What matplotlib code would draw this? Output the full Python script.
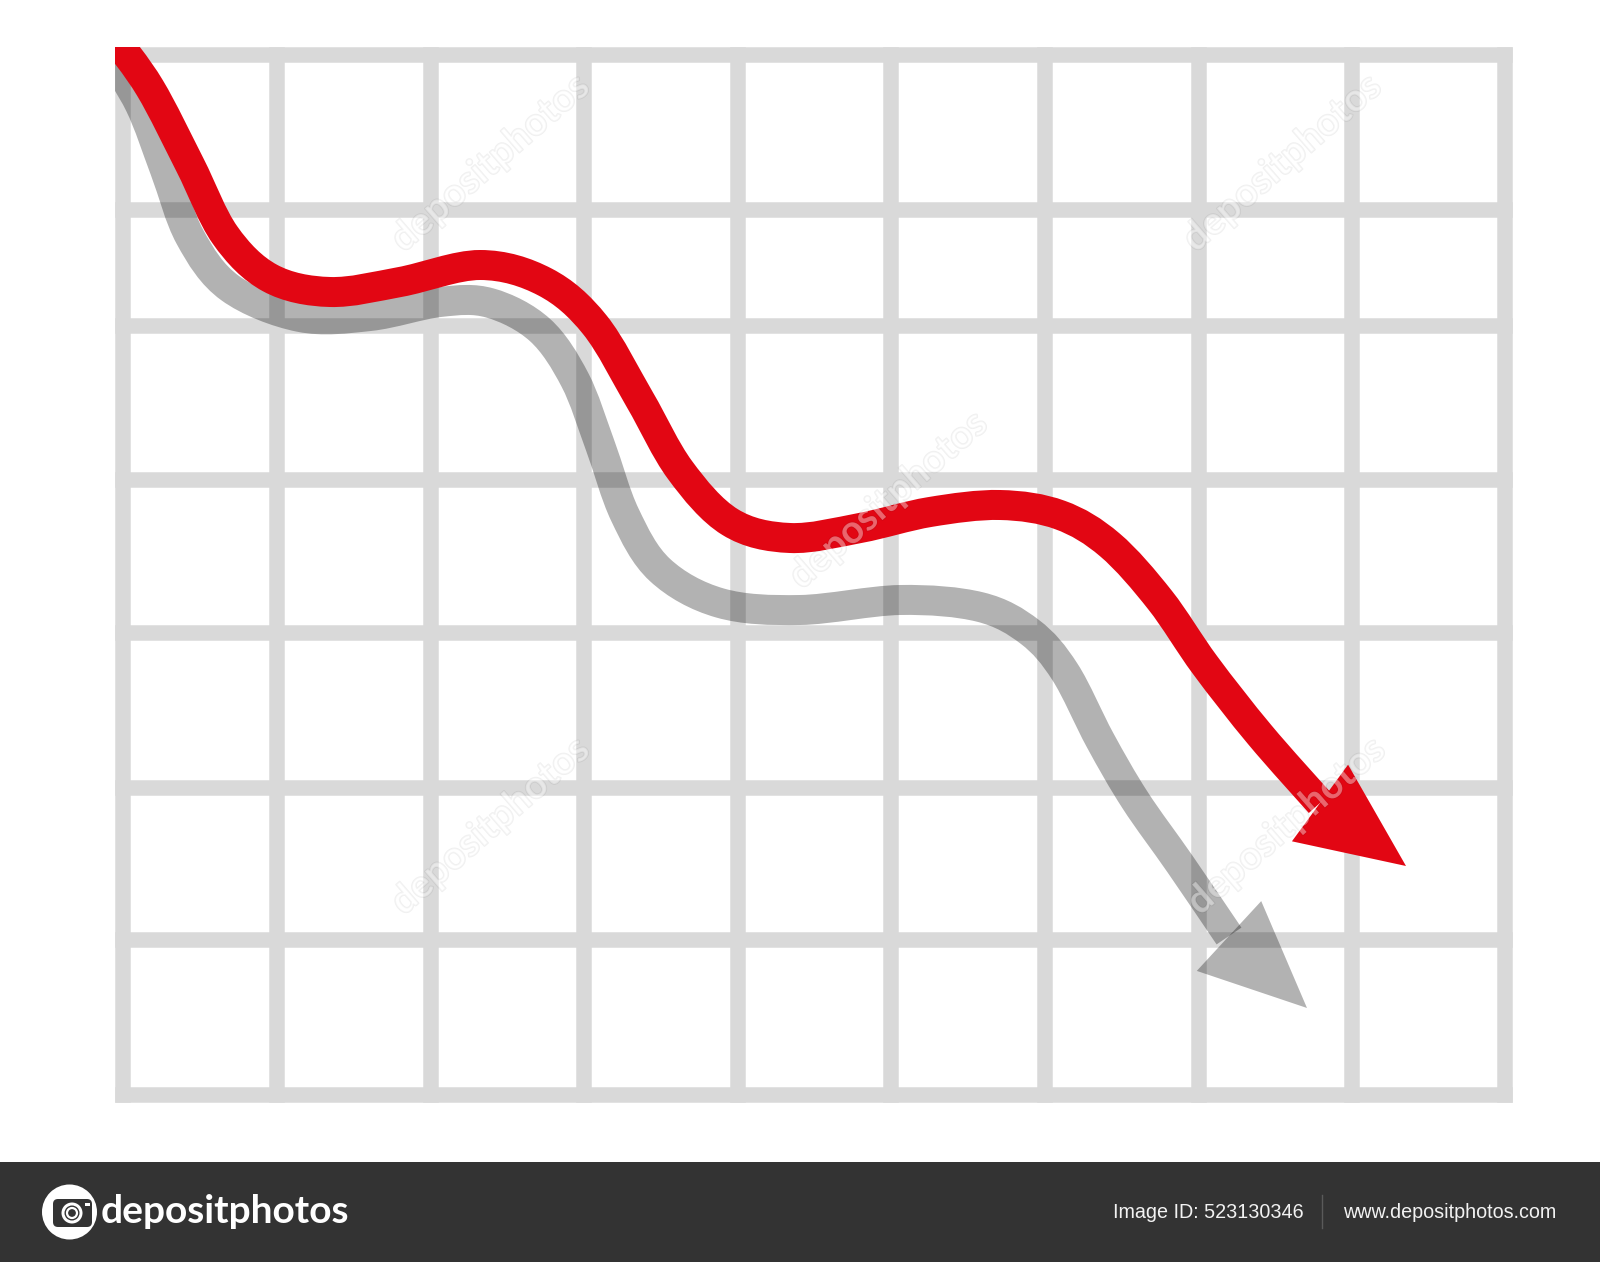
import numpy as np
import matplotlib
matplotlib.use("Agg")
from matplotlib import pyplot as plt
from matplotlib import patheffects
from matplotlib.path import Path
from matplotlib.patches import PathPatch, Polygon, Rectangle, Circle, FancyBboxPatch

# canvas is laid out in pixel units of the original picture
W, H = 1600, 1262

# grid line positions
grid_x = [123, 277, 431, 584, 738, 891, 1045, 1199, 1352, 1505]
grid_y = [55, 210, 325.5, 479.5, 632.5, 787.5, 939.5, 1094.5]

# red trend line (key points of the centre line)
red_x = [112, 150, 190, 225, 270, 330, 400, 480, 545, 595, 640, 680, 730,
         790, 860, 930, 1000, 1060, 1110, 1160, 1205, 1260, 1320]
red_y = [35, 88, 165, 235, 278, 292, 282, 265, 282, 325, 400, 470, 522,
         538, 528, 512, 505, 515, 545, 600, 665, 735, 803]
red_tip = (1406, 866)

# grey shadow line
gray_x = [108, 140, 165, 190, 230, 300, 370, 440, 490, 540, 575, 600, 625,
          660, 720, 800, 900, 980, 1030, 1065, 1100, 1135, 1180, 1229]
gray_y = [52, 105, 170, 237, 288, 317, 316, 302, 303, 330, 380, 445, 515,
          570, 603, 610, 600, 607, 632, 672, 740, 800, 864, 936]
gray_tip = (1307, 1008)

# faint stock watermarks
wm_x = [490, 1282, 888, 490, 1286]
wm_y = [163, 163, 500, 826, 826]

PX = 72 / 100  # points per pixel at dpi 100
RED = "#e20613"
GRID = "#d9d9d9"
BANNER = "#333333"
LINE_W = 30
HEAD_W = 95


def smooth_path(xs, ys):
    # Catmull-Rom spline through the points, as cubic bezier segments
    p = np.column_stack([xs, ys]).astype(float)
    verts = [p[0]]
    codes = [Path.MOVETO]
    n = len(p)
    for i in range(n - 1):
        p0 = p[i - 1] if i > 0 else p[i]
        p1, p2 = p[i], p[i + 1]
        p3 = p[i + 2] if i + 2 < n else p[i + 1]
        verts += [p1 + (p2 - p0) / 6, p2 - (p3 - p1) / 6, p2]
        codes += [Path.CURVE4] * 3
    return Path(verts, codes)


def head_points(base, tip, width):
    base = np.array(base, float)
    tip = np.array(tip, float)
    d = tip - base
    d /= np.hypot(*d)
    perp = np.array([-d[1], d[0]])
    return [base + perp * width / 2, tip, base - perp * width / 2]


fig = plt.figure(figsize=(W / 100, H / 100), dpi=100)
ax = fig.add_axes([0, 0, 1, 1])
ax.set_xlim(0, W)
ax.set_ylim(H, 0)
ax.axis("off")

# grid
ax.vlines(grid_x, grid_y[0], grid_y[-1], colors=GRID, linewidth=15.5 * PX,
          capstyle="projecting", zorder=1)
ax.hlines(grid_y, grid_x[0], grid_x[-1], colors=GRID, linewidth=15.5 * PX,
          capstyle="projecting", zorder=1)

clip = Rectangle((115, 47), W, H, transform=ax.transData)

# watermarks: white letters with a faint grey rim
wm_fx = [patheffects.Stroke(linewidth=1.2, foreground="black", alpha=0.06),
         patheffects.Normal()]
for x, y in zip(wm_x, wm_y):
    ax.text(x, y, "depositphotos", rotation=41, ha="center", va="center",
            fontsize=28, fontweight="bold", family="Lato", color="white",
            alpha=0.35, zorder=6, path_effects=wm_fx)

# shadow
gray_shaft = PathPatch(smooth_path(gray_x, gray_y), fill=False,
                       edgecolor=(0, 0, 0, 0.3), linewidth=LINE_W * PX,
                       capstyle="butt", joinstyle="round", zorder=3)
ax.add_patch(gray_shaft)
gray_shaft.set_clip_path(clip)
ax.add_patch(Polygon(head_points((gray_x[-1], gray_y[-1]), gray_tip, HEAD_W),
                     closed=True, facecolor=(0, 0, 0, 0.3), edgecolor="none",
                     zorder=3))

# red arrow
red_shaft = PathPatch(smooth_path(red_x, red_y), fill=False, edgecolor=RED,
                      linewidth=LINE_W * PX, capstyle="butt",
                      joinstyle="round", zorder=4)
ax.add_patch(red_shaft)
red_shaft.set_clip_path(clip)
ax.add_patch(Polygon(head_points((red_x[-1], red_y[-1]), red_tip, HEAD_W),
                     closed=True, facecolor=RED, edgecolor="none", zorder=4))

# bottom banner
ax.add_patch(Rectangle((0, 1162), W, 100, facecolor=BANNER, edgecolor="none",
                       zorder=7))
ax.add_patch(Circle((69.5, 1212), 27.5, facecolor="white", zorder=8))
ax.add_patch(FancyBboxPatch((53, 1199), 39, 28, boxstyle="round,pad=0,rounding_size=5",
                            facecolor=BANNER, edgecolor="none", zorder=9))
ax.add_patch(Circle((72, 1213), 10.5, facecolor="white", zorder=10))
ax.add_patch(Circle((72, 1213), 7.5, facecolor=BANNER, zorder=11))
ax.add_patch(Circle((72, 1213), 5, facecolor="none", edgecolor="white",
                    linewidth=1.6, zorder=12))
ax.add_patch(Rectangle((85, 1203), 5, 3, facecolor="white", zorder=10))
ax.text(101, 1223, "depositphotos", ha="left", va="baseline", fontsize=28,
        fontweight="bold", family="Lato", color="white", zorder=10)

ax.text(1113, 1218, "Image ID: 523130346", ha="left", va="baseline",
        fontsize=14.2, family="Liberation Sans", color="#f2f2f2", zorder=10)
ax.plot([1322, 1322], [1195, 1228], color="#5a5a5a", linewidth=1, zorder=10)
ax.text(1343, 1218, "www.depositphotos.com", ha="left", va="baseline",
        fontsize=14.2, family="Liberation Sans", color="#f2f2f2", zorder=10)

fig.savefig("out.png", dpi=100, facecolor="white")
